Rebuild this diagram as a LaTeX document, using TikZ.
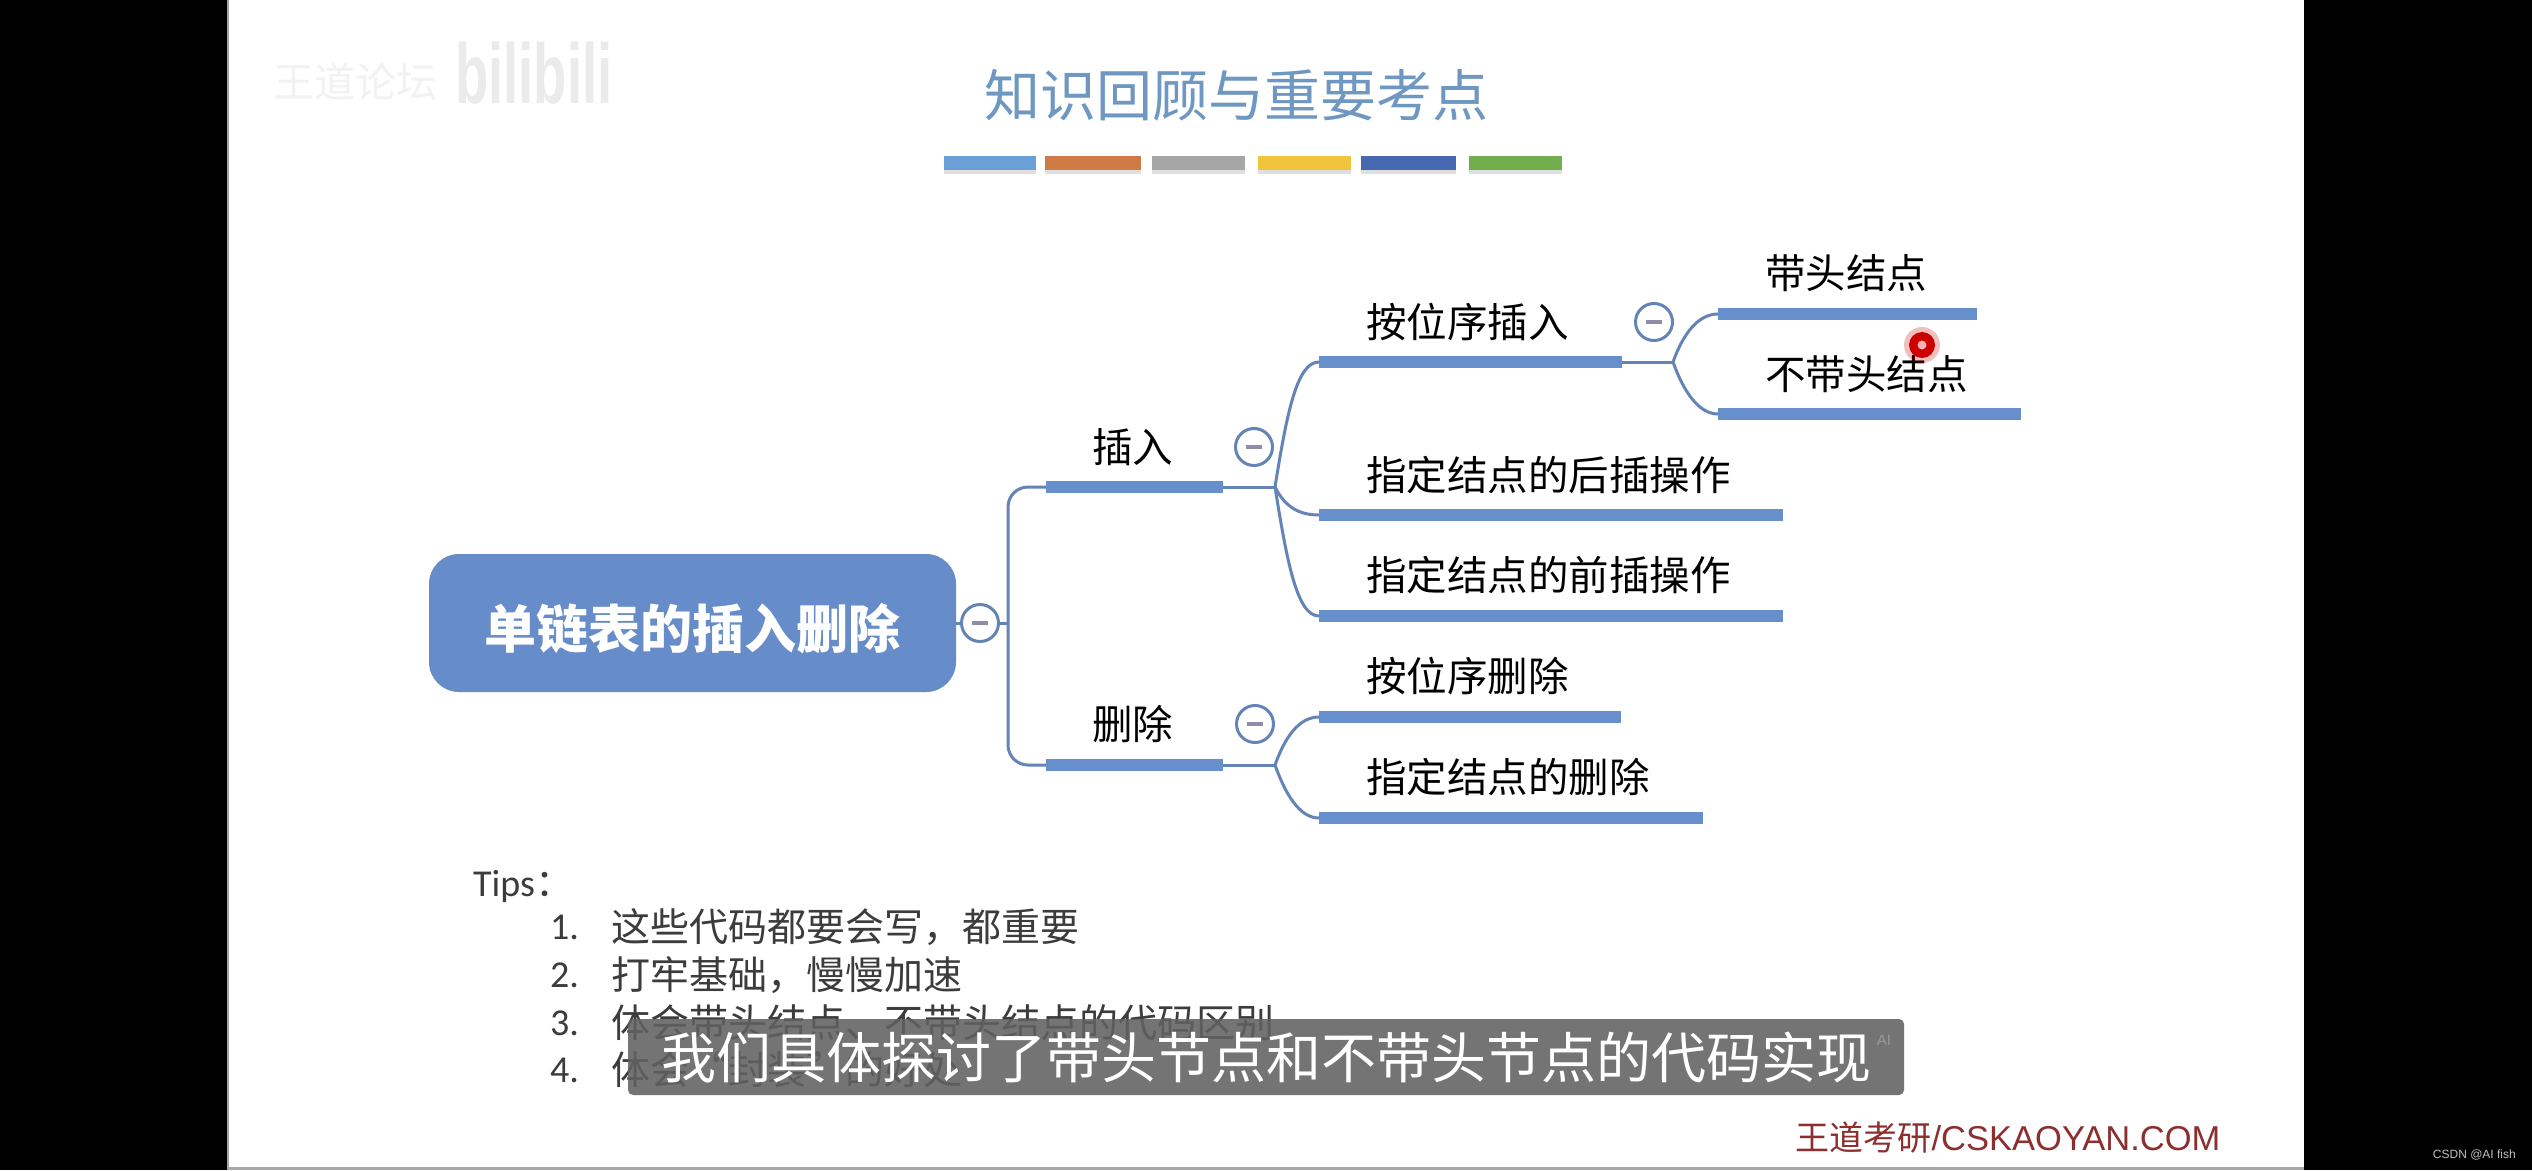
\documentclass[tikz,border=0pt]{standalone}
\usepackage{fontspec}
\usetikzlibrary{shadows}
\setmainfont{Noto Sans CJK SC}
\newfontfamily\latinfont{Carlito}
\newfontfamily\footfont{Liberation Sans}
\definecolor{rootblue}{HTML}{668CC9}
\definecolor{barblue}{HTML}{668FCB}
\definecolor{linkblue}{HTML}{6484B8}
\definecolor{titleblue}{HTML}{6E97C2}
\definecolor{minusgrey}{HTML}{8E8CA6}
\definecolor{tipsgrey}{HTML}{3C3C3C}
\definecolor{footred}{HTML}{8B2F2F}
\tikzset{
  rulebar/.style={rectangle, minimum height=14pt, inner sep=0pt, outer sep=0pt, anchor=west,
    drop shadow={shadow xshift=0pt, shadow yshift=-4pt, opacity=.25}},
  topicbar/.style={rectangle, fill=barblue, minimum height=12pt, inner sep=0pt, outer sep=0pt, anchor=west},
  topic/.style={anchor=west, inner sep=0pt, font=\fontsize{40.5}{48}\selectfont},
  tipitem/.style={anchor=west, inner sep=0pt, text=tipsgrey, font=\fontsize{39}{46}\selectfont},
  tipnum/.style={anchor=west, inner sep=0pt, text=tipsgrey, font=\latinfont\fontsize{38}{46}\selectfont},
  branch/.style={draw=linkblue, line width=3pt},
  togglebtn/.style={circle, draw=linkblue, fill=white, line width=3pt, minimum size=37pt, inner sep=0pt}
}
\newcommand{\minusmark}{\textcolor{minusgrey}{\rule{16pt}{3.5pt}}}
\begin{document}
\begin{tikzpicture}[x=1pt, y=-1pt]
\useasboundingbox (0, 0) rectangle (2532, 1170);
% screen and slide
\fill[black] (0, 0) rectangle (2532, 1170);
\fill[white] (228, 0) rectangle (2304, 1170);
\fill[gray!70] (226.5, 0) rectangle (229, 1170);
\fill[gray!70] (228, 1167) rectangle (2304, 1170);
% faded watermark
\node[anchor=west, inner sep=0pt, text=black!5, font=\fontsize{41}{48}\selectfont] at (273, 82) (markcn) {王道论坛};
\node[anchor=west, inner sep=0pt, text=black!8, font=\footfont\bfseries\fontsize{85}{90}\selectfont] at (455, 73) (markbili) {\scalebox{.64}[1]{bilibili}};
% title
\node[text=titleblue, font=\fontsize{56}{64}\selectfont] at (1236, 95) (title) {知识回顾与重要考点};
\node[rulebar, fill={rgb,255:red,106;green,160;blue,214}, minimum width=92pt] at (944, 163) (rule1) {};
\node[rulebar, fill={rgb,255:red,208;green,122;blue,69}, minimum width=96pt] at (1045, 163) (rule2) {};
\node[rulebar, fill={rgb,255:red,166;green,166;blue,166}, minimum width=93pt] at (1152, 163) (rule3) {};
\node[rulebar, fill={rgb,255:red,240;green,196;blue,60}, minimum width=93pt] at (1258, 163) (rule4) {};
\node[rulebar, fill={rgb,255:red,70;green,104;blue,176}, minimum width=95pt] at (1361, 163) (rule5) {};
\node[rulebar, fill={rgb,255:red,115;green,174;blue,78}, minimum width=93pt] at (1469, 163) (rule6) {};
% mind map
\node[rectangle, rounded corners=30pt, fill=rootblue, text=white, minimum width=527pt, minimum height=138pt,
  font=\bfseries\fontsize{52}{60}\selectfont] at (692.5, 623) (root) {\raisebox{-25pt}[0pt][0pt]{单链表的插入删除}};
\node[topicbar, minimum width=177pt] at (1046, 487) (insbar) {};
\node[topic] at (1092, 447) (ins) {插入};
\node[topicbar, minimum width=177pt] at (1046, 765) (delbar) {};
\node[topic] at (1092, 724) (del) {删除};
\node[topicbar, minimum width=303pt] at (1319, 362) (seqbar) {};
\node[topic] at (1366, 322) (seq) {按位序插入};
\node[topicbar, minimum width=464pt] at (1319, 515) (afterbar) {};
\node[topic] at (1366, 475) (after) {指定结点的后插操作};
\node[topicbar, minimum width=464pt] at (1319, 616) (beforebar) {};
\node[topic] at (1366, 575) (before) {指定结点的前插操作};
\node[topicbar, minimum width=259pt] at (1718, 314) (headbar) {};
\node[topic] at (1765, 273) (head) {带头结点};
\node[topicbar, minimum width=303pt] at (1718, 414) (noheadbar) {};
\node[topic] at (1765, 374) (nohead) {不带头结点};
\node[topicbar, minimum width=302pt] at (1319, 717) (seqdelbar) {};
\node[topic] at (1366, 676) (seqdel) {按位序删除};
\node[topicbar, minimum width=384pt] at (1319, 818) (nodedelbar) {};
\node[topic] at (1366, 777) (nodedel) {指定结点的删除};
\coordinate (trunk) at (1008, 623);
\coordinate (insfork) at (1275, 487);
\coordinate (seqfork) at (1673, 362);
\coordinate (delfork) at (1275, 765);
\draw[branch] (root) -- (trunk);
\draw[branch, rounded corners=20pt] (trunk) |- (insbar.west);
\draw[branch, rounded corners=20pt] (trunk) |- (delbar.west);
\draw[branch] (insbar.east) -- (insfork);
\draw[branch] (insfork) .. controls +(12, -75) and +(-22, 0) .. (seqbar.west);
\draw[branch] (insfork) .. controls +(10, 20) and +(-20, 0) .. (afterbar.west);
\draw[branch] (insfork) .. controls +(12, 75) and +(-22, 0) .. (beforebar.west);
\draw[branch] (seqbar.east) -- (seqfork);
\draw[branch] (seqfork) .. controls +(10, -28) and +(-20, 0) .. (headbar.west);
\draw[branch] (seqfork) .. controls +(10, 28) and +(-20, 0) .. (noheadbar.west);
\draw[branch] (delbar.east) -- (delfork);
\draw[branch] (delfork) .. controls +(10, -28) and +(-20, 0) .. (seqdelbar.west);
\draw[branch] (delfork) .. controls +(10, 28) and +(-20, 0) .. (nodedelbar.west);
\node[togglebtn] at (980, 623) (roottoggle) {\minusmark};
\node[togglebtn] at (1254, 447) (instoggle) {\minusmark};
\node[togglebtn] at (1255, 724) (deltoggle) {\minusmark};
\node[togglebtn] at (1654, 322) (seqtoggle) {\minusmark};
% pointer dot
\node[circle, fill=red!80!black, opacity=.25, minimum size=36pt, inner sep=0pt] at (1922, 345) (halo) {};
\node[circle, fill=red!80!black, minimum size=26pt, inner sep=0pt] at (1922, 345) (pointer) {};
\node[circle, fill=white!70!red, minimum size=9pt, inner sep=0pt] at (1922, 345) (pointermid) {};
% tips
\node[tipitem, font=\latinfont\fontsize{38}{46}\selectfont] at (473, 886) (tips) {Tips\fontspec{Noto Sans CJK SC}：};
\node[tipnum] at (550, 927) (n1) {1.};
\node[tipitem] at (611, 927) (t1) {这些代码都要会写，都重要};
\node[tipnum] at (550, 975) (n2) {2.};
\node[tipitem] at (611, 975) (t2) {打牢基础，慢慢加速};
\node[tipnum] at (550, 1023) (n3) {3.};
\node[tipitem] at (611, 1023) (t3) {体会带头结点、不带头结点的代码区别};
\node[tipnum] at (550, 1070) (n4) {4.};
\node[tipitem] at (611, 1070) (t4) {体会“封装”的好处};
% subtitle strip
\node[rectangle, rounded corners=5pt, fill=black!62, fill opacity=.88, text opacity=1, text=white, minimum width=1276pt, minimum height=76pt,
  inner sep=0pt, font=\fontsize{55}{60}\selectfont] at (1266, 1057) (caption) {我们具体探讨了带头节点和不带头节点的代码实现};
\node[text=white!60!black, inner sep=0pt, font=\footfont\fontsize{15}{18}\selectfont] at (1884, 1040) (capai) {AI};
% footer
\node[anchor=west, inner sep=0pt, text=footred, font=\fontsize{34}{40}\selectfont] at (1795, 1138) (footcn) {王道考研};
\node[anchor=west, inner sep=0pt, text=footred, font=\footfont\fontsize{34.5}{40}\selectfont] at (footcn.east) (footen) {/CSKAOYAN.COM};
\node[anchor=east, inner sep=0pt, text=white!75!black, font=\footfont\fontsize{12}{16}\selectfont] at (2516, 1155) (csdn) {CSDN @AI fish};
\end{tikzpicture}
\end{document}
